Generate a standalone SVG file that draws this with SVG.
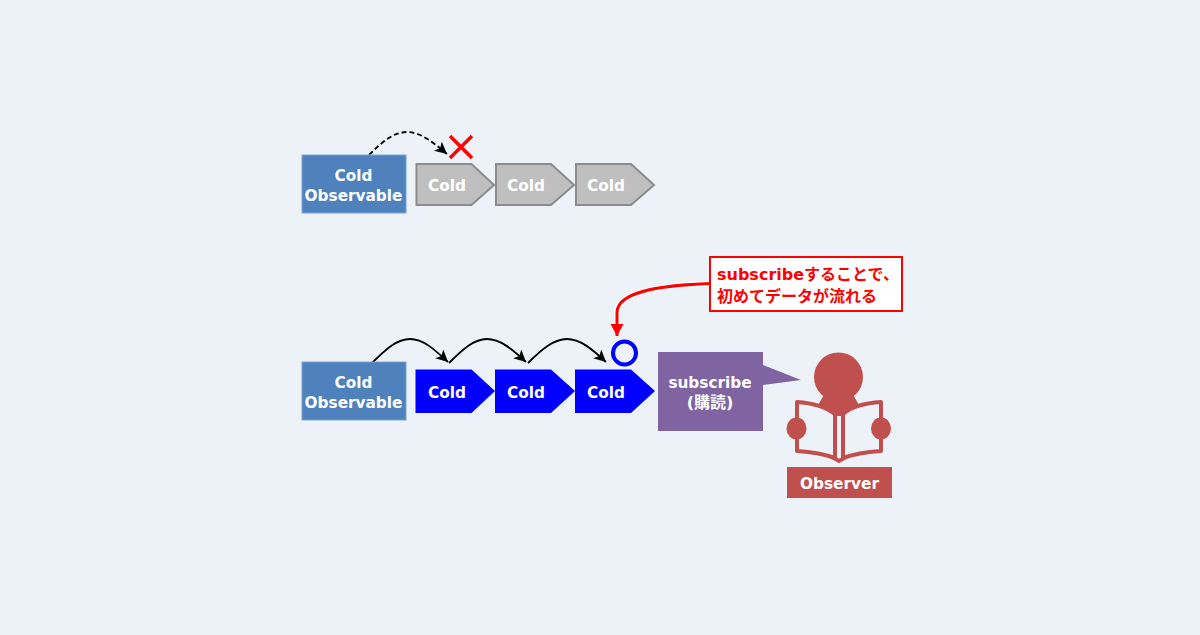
<svg xmlns="http://www.w3.org/2000/svg" width="1200" height="635" viewBox="0 0 1200 635">
<style>
text{font-family:"DejaVu Sans","Noto Sans CJK JP",sans-serif;font-weight:700;text-anchor:middle}
.w{fill:#fff;font-size:15.3px}
.r{fill:#f00;font-size:16px;text-anchor:start}
.src{fill:#4f81bd;stroke:#7ba3d3;stroke-width:1}
.g{fill:#bfbfbf;stroke:#8c8c8c;stroke-width:2}
.b{fill:#0000ff}
.c{fill:none;stroke:#000;stroke-width:1.8}
.p{fill:#edf2f9;stroke:#c0504d;stroke-width:4;stroke-linejoin:round}
</style>
<defs>
<marker id="ah" markerUnits="userSpaceOnUse" markerWidth="14" markerHeight="14" refX="12" refY="6" orient="auto"><path d="M0 0L12 6L0 12L3 6z" fill="#000"/></marker>
<marker id="rh" markerUnits="userSpaceOnUse" markerWidth="14" markerHeight="14" refX="12" refY="6.500" orient="auto"><path d="M0 0L12 6.500L0 13z" fill="#f00"/></marker>
</defs>
<rect width="1200" height="635" fill="#edf2f9"/>
<g id="connectors">
<path class="c" stroke-dasharray="5 3" d="M369 155C383 141 394 132 407 132C420 132 433 142 447 154" marker-end="url(#ah)"/>
<path class="c" d="M372 363C386 349 397 339 410 339C423 339 434 349 448 362" marker-end="url(#ah)"/>
<path class="c" d="M449 363C463 349 474 339 487 339C500 339 512 349 526 362" marker-end="url(#ah)"/>
<path class="c" d="M528 363C542 349 554 339 567 339C580 339 592 349 606 362" marker-end="url(#ah)"/>
<path fill="none" stroke="#fff" stroke-width="5.500" d="M710 283.500C668 285 618 290 617 312V324"/>
<path fill="none" stroke="#f00" stroke-width="3" d="M710 283.500C668 285 618 290 617 312V336" marker-end="url(#rh)"/>
</g>
<g id="cold-observable-1"><rect class="src" x="302" y="155" width="104" height="58"/><text class="w" x="353.500" y="181">Cold</text><text class="w" x="353.500" y="201">Observable</text></g>
<g id="cross"><path d="M450 136L472 158M472 136L450 158" stroke="#f00" stroke-width="3.500" fill="none"/></g>
<g id="gray-1"><path class="g" d="M416.500 164H471.500L494 185L471.500 205H416.500z"/><text class="w" x="447" y="191">Cold</text></g>
<g id="gray-2"><path class="g" d="M496 164H551L574 185L551 205H496z"/><text class="w" x="526" y="191">Cold</text></g>
<g id="gray-3"><path class="g" d="M576 164H631L654 185L631 205H576z"/><text class="w" x="606" y="191">Cold</text></g>
<g id="cold-observable-2"><rect class="src" x="302" y="362" width="104" height="58"/><text class="w" x="353.500" y="388">Cold</text><text class="w" x="353.500" y="408">Observable</text></g>
<g id="blue-1"><path class="b" d="M415.500 369.500H471.500L495 391L471.500 413H415.500z"/><text class="w" x="447" y="398">Cold</text></g>
<g id="blue-2"><path class="b" d="M495 369.500H551L575 391L551 413H495z"/><text class="w" x="526" y="398">Cold</text></g>
<g id="blue-3"><path class="b" d="M575 369.500H631L655 391L631 413H575z"/><text class="w" x="606" y="398">Cold</text></g>
<g id="circle"><circle cx="624.500" cy="353" r="11.500" fill="none" stroke="#0000ff" stroke-width="4"/></g>
<g id="subscribe"><path d="M658 352H763V365L801 380L763 385V431H658z" fill="#8064a2"/><text class="w" x="710" y="388">subscribe</text><text class="w" x="710" y="408" style="font-size:16px">(購読)</text></g>
<g id="observer-icon" fill="#c0504d">
<circle cx="838.500" cy="377" r="24.500"/>
<path d="M825 393H852L859 405L842 416H835L818 405z"/>
<path class="p" d="M797 402C812 403 826 407 835 414V458C824 454 811 452 797 451z"/>
<path class="p" d="M881 402C866 403 851 407 843 414V458C854 454 867 452 881 451z"/>
<path d="M832 457L839 461L846 457" fill="none" stroke="#c0504d" stroke-width="4"/>
<ellipse cx="796.500" cy="428.500" rx="10" ry="11"/>
<ellipse cx="881" cy="428.500" rx="10" ry="11"/>
</g>
<g id="observer"><rect x="787" y="467" width="105" height="31" fill="#c0504d"/><text class="w" x="839.500" y="489">Observer</text></g>
<g id="callout"><rect x="710" y="257" width="192" height="54" fill="#fff" stroke="#f00" stroke-width="2"/><text class="r" x="717" y="280">subscribeすることで、</text><text class="r" x="717" y="302">初めてデータが流れる</text></g>
</svg>
